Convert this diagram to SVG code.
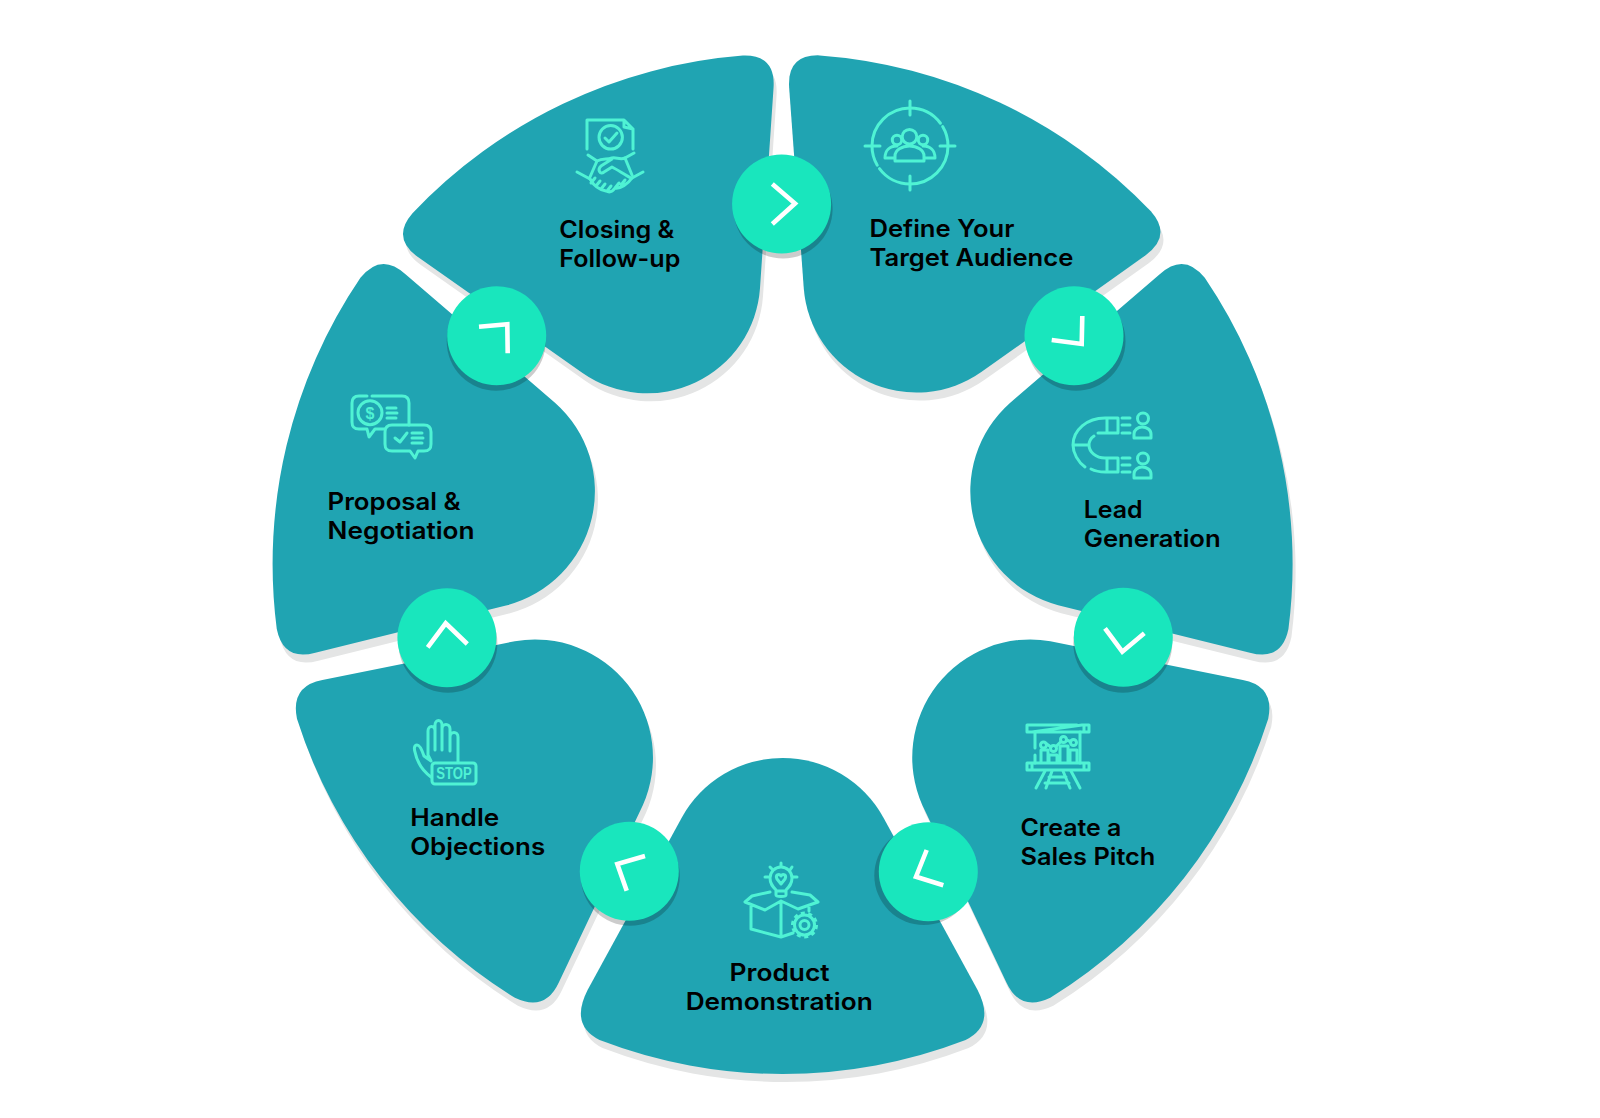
<svg xmlns="http://www.w3.org/2000/svg" width="1600" height="1118" viewBox="0 0 1600 1118">
<style>
.pet{fill:#20A4B2}
.sh{fill:#E4E5E5}
.ic{fill:none;stroke:#4FF3D4;stroke-width:3;stroke-linecap:round;stroke-linejoin:round}
.lb{font-family:Inter,"Noto Sans","Liberation Sans",sans-serif;font-weight:600;font-size:24px;fill:#000}
.it{font-family:"Liberation Sans",Arial,sans-serif;font-weight:700;fill:#4FF3D4}
.dot{fill:#19E6BD}
.dsh{fill:#000;fill-opacity:.2}
.chev{fill:none;stroke:#fff;stroke-width:4.6}
</style>
<defs>
<path id="petal" d="M886.6 822.5L977.1 998Q993.1 1027 963.1 1041A510 510 0 0 1 602.1 1041Q572.1 1027 588.1 998L678.6 822.5A118 118 0 0 1 886.6 822.5Z"/>
<path id="petal-lower" d="M886.6 822.5L974.6 998Q989.6 1027 959.6 1042A510 510 0 0 1 605.6 1042Q575.6 1027 590.6 998L678.6 822.5A118 118 0 0 1 886.6 822.5Z"/>
<path id="petal-top" d="M880.9 822.6L979.6 998Q995.6 1027 965.6 1040A510 510 0 0 1 599.6 1040Q569.6 1027 585.6 998L684.3 822.6A113 113 0 0 1 880.9 822.6Z"/>
<path id="petal-bottom" d="M883.5 817.8L977.6 990Q995.6 1025 965.6 1040A510 510 0 0 1 599.6 1040Q569.6 1025 587.6 990L681.7 817.8A115 115 0 0 1 883.5 817.8Z"/>
</defs>
<rect width="1600" height="1118" fill="#fff"/>

<g id="node-define">
<use href="#petal-top" class="sh" transform="translate(3 8) rotate(-154.8 782.6 564)"/>
<use href="#petal-top" class="pet" transform="rotate(-154.8 782.6 564)"/>
<g class="ic">
<circle cx="910" cy="146" r="38" stroke-dasharray="95 4 115 4 21"/>
<path d="M910 101V115M910 176V190M865 146H880M940 146H955"/>
<circle cx="909.5" cy="136.7" r="7.3"/><circle cx="897" cy="140" r="4.7"/><circle cx="923" cy="140" r="4.7"/>
<path d="M895 161V156C895 150 902 146 909.5 146C917 146 924 150 924 156V161ZM895 158H885C885 150 890 146 897 146M924 158H935C935 150 930 146 923 146"/>
</g>
<text class="lb" x="869.4" y="237" textLength="145" lengthAdjust="spacingAndGlyphs">Define Your</text>
<text class="lb" x="869.4" y="266" textLength="204" lengthAdjust="spacingAndGlyphs">Target Audience</text>
</g>

<g id="node-lead">
<use href="#petal" class="sh" transform="translate(3 8) rotate(-103.4 782.6 564)"/>
<use href="#petal" class="pet" transform="rotate(-103.4 782.6 564)"/>
<g class="ic">
<path d="M1118 418H1105C1087 418 1073 430 1073 445C1073 453 1078 462 1085 467M1091 469C1095 471 1100 472 1105 472H1118V458H1105C1096 458 1089 452 1089 445C1089 441 1091 438 1094 436M1098 433H1118V418M1107 418V433M1107 458V472M1074 445H1089"/>
<path d="M1122 418H1130M1122 425H1130M1122 433H1130M1122 458H1130M1122 465H1130M1122 472H1130"/>
<circle cx="1143" cy="418.5" r="5.5"/><circle cx="1143" cy="458.5" r="5.5"/>
<path d="M1134 438V434C1134 430 1138 427 1142 427C1147 427 1151 430 1151 434V438ZM1134 478V474C1134 470 1138 467 1142 467C1147 467 1151 470 1151 474V478Z"/>
</g>
<text class="lb" x="1083.7" y="518" textLength="59" lengthAdjust="spacingAndGlyphs">Lead</text>
<text class="lb" x="1083.7" y="547" textLength="137" lengthAdjust="spacingAndGlyphs">Generation</text>
</g>

<g id="node-pitch">
<use href="#petal-lower" class="sh" transform="translate(3 8) rotate(-52 782.6 564)"/>
<use href="#petal-lower" class="pet" transform="rotate(-52 782.6 564)"/>
<g class="ic">
<path d="M1032 725H1077M1082 725H1084V732H1032ZM1032 725H1027V732H1032M1084 725H1089V732H1084M1032 763H1084V770H1032ZM1032 763H1027V770H1032M1084 763H1089V770H1084"/>
<path d="M1035 732V748M1035 755V763M1080 732V763"/>
<path d="M1041 762V750H1048V762M1049 762V755H1057V762M1060 762V746H1068V762M1070 762V750H1077V762"/>
<circle cx="1043.5" cy="745" r="3"/><circle cx="1053.5" cy="748.5" r="3"/><circle cx="1063.5" cy="739.5" r="3"/><circle cx="1073.5" cy="742.5" r="3"/>
<path d="M1046 743.5L1051 747M1056 746.5L1061 741.5M1066.5 740L1070.5 741.5"/>
<path d="M1045 771L1036 788M1052 771L1046 788M1063 771L1070 788M1071 771L1080 788M1049 777H1066M1045 783H1069"/>
</g>
<text class="lb" x="1020.4" y="836" textLength="101" lengthAdjust="spacingAndGlyphs">Create a</text>
<text class="lb" x="1020.4" y="865" textLength="135" lengthAdjust="spacingAndGlyphs">Sales Pitch</text>
</g>

<g id="node-product">
<use href="#petal-bottom" class="sh" transform="translate(3 8)"/>
<use href="#petal-bottom" class="pet"/>
<g class="ic">
<path d="M776 890C773 887 770 884 770 878C770 872 775 867 781 867C787 867 792 872 792 878C792 884 789 887 786 890V895C786 897 776 897 776 895ZM776 891H786"/>
<path d="M781 884L777 879C775 875 779 873 781 876C783 873 787 875 785 879Z"/>
<path d="M781 863V866M770 867L773 870M792 867L790 870M765 877H768M793 877H797"/>
<path d="M770 892L752 896L745 902L765 910L781 901L798 909L818 902L810 895L792 892M781 901V937M751 906V929L781 937L793 933M809 905V911"/>
<circle cx="804.5" cy="925" r="4.5"/>
<circle cx="804.5" cy="925" r="10"/>
<circle cx="804.5" cy="925" r="12" stroke-dasharray="4 3.5" stroke-linecap="butt"/>
</g>
<text class="lb" x="729.6" y="981" textLength="100" lengthAdjust="spacingAndGlyphs">Product</text>
<text class="lb" x="685.7" y="1010" textLength="187" lengthAdjust="spacingAndGlyphs">Demonstration</text>
</g>

<g id="node-objections">
<use href="#petal-lower" class="sh" transform="translate(3 8) rotate(52 782.6 564)"/>
<use href="#petal-lower" class="pet" transform="rotate(52 782.6 564)"/>
<g class="ic">
<path d="M458 762V737C458 731 450 731 450 737V751M450 737V729C450 723 442 723 442 729V750M442 729V725C442 719 435 719 435 725V750M435 731C435 725 428 725 428 731V755L431 761L424 756C422 750 420 745 417 745C414 745 414 749 415 752C417 762 423 771 431 777"/>
<rect x="432" y="763" width="44" height="21" rx="3"/>
</g>
<text class="it" x="454" y="778.5" font-size="16" text-anchor="middle" textLength="35.5" lengthAdjust="spacingAndGlyphs">STOP</text>
<text class="lb" x="410.2" y="826" textLength="89" lengthAdjust="spacingAndGlyphs">Handle</text>
<text class="lb" x="410.2" y="855" textLength="135" lengthAdjust="spacingAndGlyphs">Objections</text>
</g>

<g id="node-proposal">
<use href="#petal" class="sh" transform="translate(3 8) rotate(103.4 782.6 564)"/>
<use href="#petal" class="pet" transform="rotate(103.4 782.6 564)"/>
<g class="ic">
<path d="M367 396H359C354 396 352 399 352 403V422C352 427 354 429 359 429H367L369 437L375 429H385M372 396H402C407 396 409 399 409 403V425"/>
<path d="M392 425H424C429 425 431 428 431 432V444C431 449 429 451 424 451H418L415 458L410 451H392C387 451 385 449 385 444V432C385 428 387 425 392 425Z"/>
<circle cx="370" cy="412.7" r="12"/>
<path d="M387 408H396M387 413H397M387 418H396M395 438L400 442L407 433M412 433H422M412 438H423M412 443H422"/>
</g>
<text class="it" x="370" y="418.5" font-size="16" text-anchor="middle">$</text>
<text class="lb" x="327.6" y="510" textLength="133" lengthAdjust="spacingAndGlyphs">Proposal &amp;</text>
<text class="lb" x="327.6" y="539" textLength="147" lengthAdjust="spacingAndGlyphs">Negotiation</text>
</g>

<g id="node-closing">
<use href="#petal-top" class="sh" transform="translate(3 8) rotate(154.5 782.6 564)"/>
<use href="#petal-top" class="pet" transform="rotate(154.5 782.6 564)"/>
<g class="ic">
<path d="M587 149V120H624L633 129V149M624 120V127L633 129"/>
<circle cx="610.7" cy="137.3" r="11.7"/>
<path d="M605 138L609 142L617 133"/>
<path d="M588 155L597 161L590 177M577 172L590 179M634 153L625 158L632 175M643 172L632 178"/>
<path d="M597 161C603 158 607 160 612 158C616 157 620 160 625 158M612 159L601 166C597 170 600 175 604 172L612 167C618 170 625 175 631 178"/>
<path d="M590 179C594 186 600 190 606 191C610 193 613 191 615 188C620 189 628 184 632 178M595 178L591 183M600 181L596 186M605 184L601 189M611 186L607 191M619 183L615 188M625 180L621 185"/>
</g>
<text class="lb" x="559.3" y="237.5" textLength="115" lengthAdjust="spacingAndGlyphs">Closing &amp;</text>
<text class="lb" x="559.3" y="266.5" textLength="121" lengthAdjust="spacingAndGlyphs">Follow-up</text>
</g>

<g id="connectors">
<g><circle class="dsh" cx="783.1" cy="209" r="49.5"/><circle class="dot" cx="781.6" cy="204" r="49.5"/><path class="chev" d="M772.3 184L795 203.5L772.3 224"/></g>
<g><circle class="dsh" cx="1076" cy="341.2" r="49.5"/><circle class="dot" cx="1074" cy="335.7" r="49.5"/><path class="chev" d="M1082.3 316L1081.7 344L1051.7 340"/></g>
<g><circle class="dsh" cx="1122.8" cy="643.3" r="49.5"/><circle class="dot" cx="1123.3" cy="637.3" r="49.5"/><path class="chev" d="M1105 628.3L1122.3 651.7L1144.3 633.3"/></g>
<g><circle class="dsh" cx="923.8" cy="875.4" r="49.5"/><circle class="dot" cx="928.3" cy="871.7" r="49.5"/><path class="chev" d="M926.7 850L916 876.7L943.3 885.3"/></g>
<g><circle class="dsh" cx="630.3" cy="876.3" r="49.5"/><circle class="dot" cx="629.3" cy="871.3" r="49.5"/><path class="chev" d="M645 856L617.3 864L626.7 890.7"/></g>
<g><circle class="dsh" cx="447.9" cy="643.3" r="49.5"/><circle class="dot" cx="446.9" cy="637.8" r="49.5"/><path class="chev" d="M427.7 647.3L445.7 623.3L467.3 644"/></g>
<g><circle class="dsh" cx="496.2" cy="341.2" r="49.5"/><circle class="dot" cx="496.7" cy="335.7" r="49.5"/><path class="chev" d="M479 326.7L507.3 324.3L507.7 353.3"/></g>
</g>
</svg>
